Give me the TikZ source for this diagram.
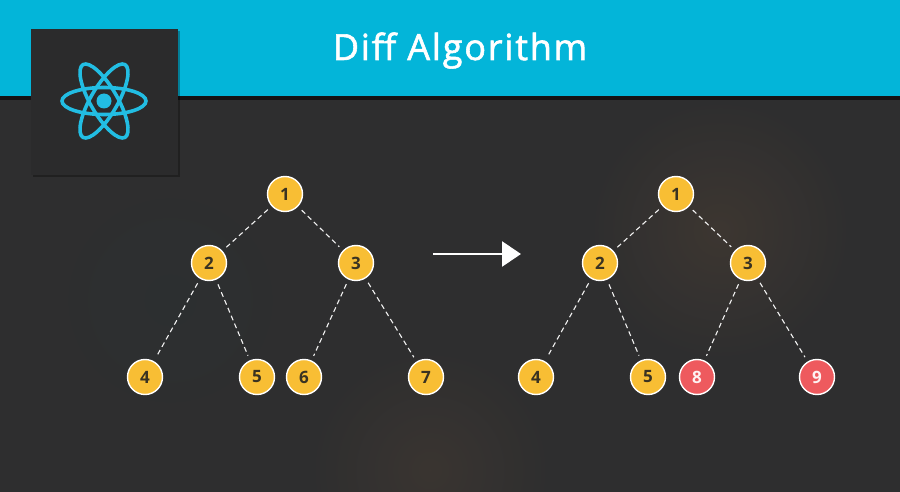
\documentclass[tikz,border=0pt]{standalone}
\usepackage{fontspec}
\setmainfont{Open Sans}
\newfontfamily\titlefont[FakeBold=1.6,LetterSpace=5]{Open Sans}
\usepackage{tikz}
\usetikzlibrary{arrows.meta,positioning}
\definecolor{banner}{HTML}{03B5D9}
\definecolor{backdrop}{HTML}{2E2E2F}
\definecolor{logobg}{HTML}{2B2B2C}
\definecolor{atom}{HTML}{22BDE3}
\definecolor{keepfill}{HTML}{F8BE34}
\definecolor{newfill}{HTML}{EE5A5E}
\definecolor{digit}{HTML}{3A3322}
\tikzset{
  keep/.style={circle,draw=white,line width=1.4pt,fill=keepfill,minimum size=35pt,
    inner sep=0pt,text=digit,font=\fontsize{17}{17}\selectfont\bfseries},
  fresh/.style={keep,fill=newfill,text=white!92!newfill},
  link/.style={draw=white!90!gray,line width=1.1pt,dash pattern=on 5pt off 3.5pt,
    shorten <=5pt,shorten >=5pt},
  orbit/.style={draw=atom,line width=3.6pt}
}
\tikzstyle{arrow} = [line width=2.6pt,white,-{Triangle[length=19pt,width=25pt]}]

\begin{document}
\begin{tikzpicture}[x=1pt,y=-1pt]
  \useasboundingbox (0,0) rectangle (900,492);
  % background
  \fill[backdrop] (0,0) rectangle (900,492);
  \shade[inner color=cyan!30!black!4!backdrop,outer color=backdrop] (170,300) circle (140);
  \shade[inner color=brown!10!backdrop,outer color=backdrop] (720,230) circle (130);
  \shade[inner color=brown!8!backdrop,outer color=backdrop] (430,470) circle (120);
  % banner
  \fill[black,opacity=0.55] (0,96) rectangle (900,100);
  \fill[banner] (0,0) rectangle (900,96);
  \node[anchor=base,text=white,font=\fontsize{36}{36}\titlefont] (title) at (460,60) {Diff Algorithm};
  % logo
  \fill[black,opacity=0.3] (33,31) rectangle (180,177);
  \fill[logobg] (31,29) rectangle (178,175);
  \foreach \a in {0,60,-60}
    \draw[orbit] (104,101) ellipse [x radius=42,y radius=13.5,rotate=\a];
  \fill[atom] (104,101) circle (7.5);

  % old tree
  \node[keep] (a1) at (285,194) {1};
  \node[keep] (a2) at (209,263) {2};
  \node[keep] (a3) at (356,263) {3};
  \node[keep] (a4) at (145,377) {4};
  \node[keep] (a5) at (257,377) {5};
  \node[keep] (a6) at (304,377) {6};
  \node[keep] (a7) at (426,377) {7};
  \foreach \p/\c in {a1/a2,a1/a3,a2/a4,a2/a5,a3/a6,a3/a7}
    \draw[link] (\p) -- (\c);

  % arrow
  \coordinate (from) at (433,254);
  \coordinate (to) at (521,254);
  \draw[arrow] (from) -- (to);

  % new tree
  \node[keep] (b1) at (676,194) {1};
  \node[keep] (b2) at (600,263) {2};
  \node[keep] (b3) at (748,263) {3};
  \node[keep] (b4) at (536,377) {4};
  \node[keep] (b5) at (648,377) {5};
  \node[fresh] (b8) at (697,377) {8};
  \node[fresh] (b9) at (817,377) {9};
  \foreach \p/\c in {b1/b2,b1/b3,b2/b4,b2/b5,b3/b8,b3/b9}
    \draw[link] (\p) -- (\c);
\end{tikzpicture}
\end{document}
